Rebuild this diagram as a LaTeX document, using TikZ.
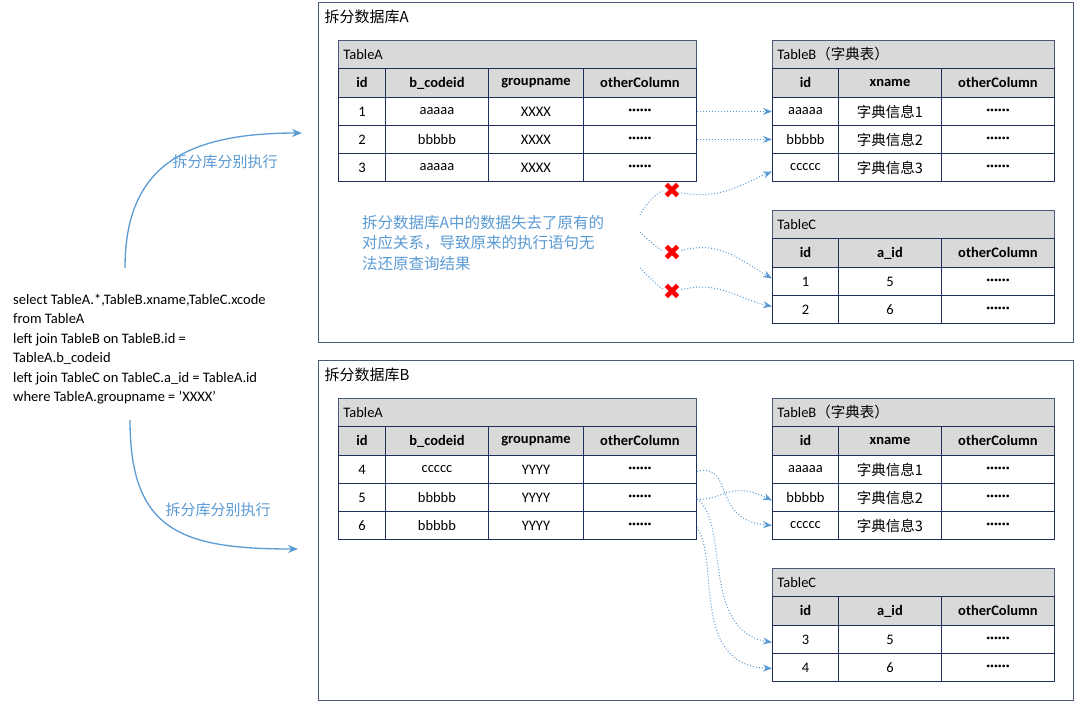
\documentclass[tikz,border=0pt]{standalone}
\usepackage{fontspec}
\setmainfont{Carlito}
\newfontfamily\cjk{Noto Sans CJK SC}
\newfontfamily\sym{DejaVu Sans}
\usetikzlibrary{arrows.meta}
\definecolor{bd}{HTML}{1F2F5A}
\definecolor{gr}{HTML}{D9D9D9}
\definecolor{bl}{HTML}{5B9BD5}
\tikzset{
 cellbox/.style={draw=bd,line width=0.9pt,minimum height=28pt,inner sep=0pt,anchor=north west,font=\fontsize{14.5}{16}\selectfont},
 hd/.style={fill=gr,font=\fontsize{14.5}{16}\selectfont\bfseries},
 ttl/.style={fill=gr,draw=bd!80,text width=#1,align=left,inner sep=4pt},
 lnk/.style={draw=bl,dotted,line width=1pt,-{Stealth[length=9pt,width=7pt]}},
 bigarr/.style={draw=bl,line width=1.3pt,-{Stealth[length=10pt,width=8pt]}},
 dbbox/.style={draw=bd!80,line width=0.8pt,anchor=north west,inner sep=0pt},
 xmark/.style={text=red,font=\sym\fontsize{22}{22}\selectfont,inner sep=0pt},
}
\newcommand\cellat[7]{\node[cellbox,minimum width=#4pt,minimum height=#5pt,#6] (#1) at (#2,#3) {#7};}
\newcommand\tablA[3]{%
 \cellat{#1t}{338}{#2}{358}{28}{ttl=348pt,fill=gr}{#3}
 \cellat{#1h1}{338}{#2+28}{47}{29}{hd}{id}
 \cellat{#1h2}{385}{#2+28}{103}{29}{hd}{b\_codeid}
 \cellat{#1h3}{488}{#2+28}{95}{29}{hd}{groupname}
 \cellat{#1h4}{583}{#2+28}{113}{29}{hd}{otherColumn}
}
\newcommand\rowA[6]{%
 \cellat{#1a}{338}{#2}{47}{28}{}{#3}
 \cellat{#1b}{385}{#2}{103}{28}{}{#4}
 \cellat{#1c}{488}{#2}{95}{28}{}{#5}
 \cellat{#1d}{583}{#2}{113}{28}{}{#6}
}
\newcommand\rowB[5]{%
 \cellat{#1a}{772}{#2}{66}{28}{}{#3}
 \cellat{#1b}{838}{#2}{103}{28}{}{#4}
 \cellat{#1c}{941}{#2}{113}{28}{}{#5}
}
\newcommand\headB[5]{%
 \cellat{#1t}{772}{#2}{282}{28}{ttl=272pt,fill=gr}{#3}
 \cellat{#1h1}{772}{#2+28}{66}{29}{hd}{id}
 \cellat{#1h2}{838}{#2+28}{103}{29}{hd}{#4}
 \cellat{#1h3}{941}{#2+28}{113}{29}{hd}{#5}
}
\newcommand\mydots{\textbf{······}}
\begin{document}
\begin{tikzpicture}[x=1pt,y=-1pt]
\useasboundingbox (0,0) rectangle (1079,707);
\fill[white] (0,0) rectangle (1079,707);
\node[dbbox,minimum width=755pt,minimum height=340pt] (dbA) at (318,2) {};
\node[anchor=north west,font=\cjk\fontsize{15}{17}\selectfont] (dbAt) at (321,6) {拆分数据库A};
\node[dbbox,minimum width=755pt,minimum height=340pt] (dbB) at (318,360) {};
\node[anchor=north west,font=\cjk\fontsize{15}{17}\selectfont] (dbBt) at (321,364) {拆分数据库B};
% --- DB A ---
\tablA{aA}{40}{TableA}
\rowA{aA1}{97}{1}{aaaaa}{XXXX}{\mydots}
\rowA{aA2}{125}{2}{bbbbb}{XXXX}{\mydots}
\rowA{aA3}{153}{3}{aaaaa}{XXXX}{\mydots}
\headB{aB}{40}{TableB{\cjk（字典表）}}{xname}{otherColumn}
\rowB{aB1}{97}{aaaaa}{\cjk 字典信息1}{\mydots}
\rowB{aB2}{125}{bbbbb}{\cjk 字典信息2}{\mydots}
\rowB{aB3}{153}{ccccc}{\cjk 字典信息3}{\mydots}
\headB{aC}{210}{TableC}{a\_id}{otherColumn}
\rowB{aC1}{267}{1}{5}{\mydots}
\rowB{aC2}{295}{2}{6}{\mydots}
% --- DB B ---
\tablA{bA}{398}{TableA}
\rowA{bA1}{455}{4}{ccccc}{YYYY}{\mydots}
\rowA{bA2}{483}{5}{bbbbb}{YYYY}{\mydots}
\rowA{bA3}{511}{6}{bbbbb}{YYYY}{\mydots}
\headB{bB}{398}{TableB{\cjk（字典表）}}{xname}{otherColumn}
\rowB{bB1}{455}{aaaaa}{\cjk 字典信息1}{\mydots}
\rowB{bB2}{483}{bbbbb}{\cjk 字典信息2}{\mydots}
\rowB{bB3}{511}{ccccc}{\cjk 字典信息3}{\mydots}
\headB{bC}{568}{TableC}{a\_id}{otherColumn}
\rowB{bC1}{625}{3}{5}{\mydots}
\rowB{bC2}{653}{4}{6}{\mydots}
% query text
\node[anchor=north west,align=left,font=\fontsize{14.5}{19.4}\selectfont,inner sep=0pt] (sql) at (13,294) {select TableA.*,TableB.xname,TableC.xcode\\from TableA\\left join TableB on TableB.id =\\TableA.b\_codeid\\left join TableC on TableC.a\_id = TableA.id\\where TableA.groupname = 'XXXX'};
\coordinate (s1) at (125,268);
\coordinate (e1) at (302,133);
\draw[bigarr] (s1) .. controls (125,170) and (180,133) .. (e1);
\node[text=bl,font=\cjk\fontsize{15}{17}\selectfont] (l1) at (225,162) {拆分库分别执行};
\coordinate (s2) at (130,420);
\coordinate (e2) at (298,549);
\draw[bigarr] (s2) .. controls (130,530) and (180,549) .. (e2);
\node[text=bl,font=\cjk\fontsize{15}{17}\selectfont] (l2) at (218,510) {拆分库分别执行};
\node[anchor=north west,align=left,text=bl,font=\cjk\fontsize{15.5}{20.5}\selectfont,inner sep=0pt] (note) at (362,215) {拆分数据库A中的数据失去了原有的\\对应关系，导致原来的执行语句无\\法还原查询结果};
% links A
\draw[lnk] (aA1d.east) -- (aB1a.west);
\draw[lnk] (aA2d.east) -- (aB2a.west);
\node[xmark] (x1) at (672,191) {✖};
\node[xmark] (x2) at (672,253) {✖};
\node[xmark] (x3) at (672,292) {✖};
\coordinate (f1) at (640,215);
\coordinate (f2) at (640,232);
\coordinate (f3) at (640,268);
\draw[draw=bl,dotted,line width=1pt] (f1) .. controls (648,200) and (660,191) .. (x1);
\draw[lnk] (x1) .. controls (720,200) and (740,185) .. ([yshift=-4pt]aB3a.west);
\draw[draw=bl,dotted,line width=1pt] (f2) .. controls (650,242) and (660,250) .. (x2);
\draw[lnk] (x2) .. controls (720,240) and (740,260) .. ([yshift=3pt]aC1a.west);
\draw[draw=bl,dotted,line width=1pt] (f3) .. controls (650,278) and (660,288) .. (x3);
\draw[lnk] (x3) .. controls (720,280) and (740,300) .. ([yshift=3pt]aC2a.west);
% links B
\draw[lnk] ([yshift=-2pt]bA1d.east) .. controls (735,462) and (710,520) .. (bB3a.west);
\draw[lnk] ([yshift=-2pt]bA2d.east) .. controls (725,500) and (730,480) .. ([yshift=-3pt]bB2a.west);
\draw[lnk] ([yshift=-2pt]bA2d.east) .. controls (730,520) and (700,630) .. ([yshift=-3pt]bC1a.west);
\draw[lnk] ([yshift=-2pt]bA3d.east) .. controls (720,560) and (690,665) .. ([yshift=-1pt]bC2a.west);
\end{tikzpicture}
\end{document}
